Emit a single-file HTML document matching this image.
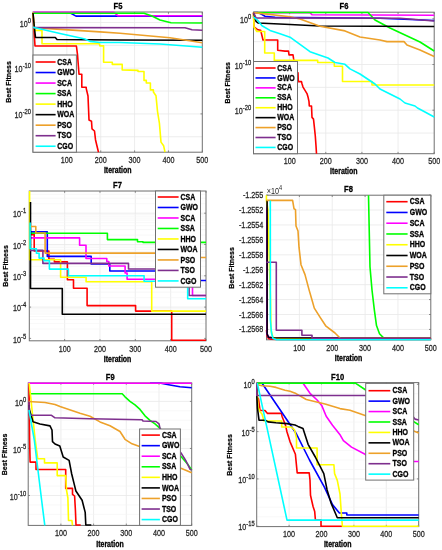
<!DOCTYPE html>
<html><head><meta charset="utf-8"><style>
html,body{margin:0;padding:0;background:#fff;}
svg{display:block;filter:blur(0.3px);}
text{font-family:"Liberation Sans", sans-serif;}
</style></head><body>
<svg width="442" height="550" viewBox="0 0 442 550">
<rect x="0" y="0" width="442" height="550" fill="#fff"/>
<line x1="66.86" y1="12.00" x2="66.86" y2="152.20" stroke="#e8e8e8" stroke-width="0.80"/>
<line x1="100.72" y1="12.00" x2="100.72" y2="152.20" stroke="#e8e8e8" stroke-width="0.80"/>
<line x1="134.58" y1="12.00" x2="134.58" y2="152.20" stroke="#e8e8e8" stroke-width="0.80"/>
<line x1="168.44" y1="12.00" x2="168.44" y2="152.20" stroke="#e8e8e8" stroke-width="0.80"/>
<line x1="33.00" y1="22.50" x2="202.30" y2="22.50" stroke="#e8e8e8" stroke-width="0.80"/>
<line x1="33.00" y1="45.35" x2="202.30" y2="45.35" stroke="#e8e8e8" stroke-width="0.80"/>
<line x1="33.00" y1="68.20" x2="202.30" y2="68.20" stroke="#e8e8e8" stroke-width="0.80"/>
<line x1="33.00" y1="91.05" x2="202.30" y2="91.05" stroke="#e8e8e8" stroke-width="0.80"/>
<line x1="33.00" y1="113.90" x2="202.30" y2="113.90" stroke="#e8e8e8" stroke-width="0.80"/>
<line x1="33.00" y1="136.75" x2="202.30" y2="136.75" stroke="#e8e8e8" stroke-width="0.80"/>
<rect x="33.00" y="12.00" width="169.30" height="140.20" fill="none" stroke="#707070" stroke-width="1"/>
<line x1="66.86" y1="152.20" x2="66.86" y2="150.40" stroke="#707070" stroke-width="0.80"/>
<line x1="66.86" y1="12.00" x2="66.86" y2="13.80" stroke="#707070" stroke-width="0.80"/>
<line x1="100.72" y1="152.20" x2="100.72" y2="150.40" stroke="#707070" stroke-width="0.80"/>
<line x1="100.72" y1="12.00" x2="100.72" y2="13.80" stroke="#707070" stroke-width="0.80"/>
<line x1="134.58" y1="152.20" x2="134.58" y2="150.40" stroke="#707070" stroke-width="0.80"/>
<line x1="134.58" y1="12.00" x2="134.58" y2="13.80" stroke="#707070" stroke-width="0.80"/>
<line x1="168.44" y1="152.20" x2="168.44" y2="150.40" stroke="#707070" stroke-width="0.80"/>
<line x1="168.44" y1="12.00" x2="168.44" y2="13.80" stroke="#707070" stroke-width="0.80"/>
<line x1="202.30" y1="152.20" x2="202.30" y2="150.40" stroke="#707070" stroke-width="0.80"/>
<line x1="202.30" y1="12.00" x2="202.30" y2="13.80" stroke="#707070" stroke-width="0.80"/>
<line x1="33.00" y1="22.50" x2="34.80" y2="22.50" stroke="#707070" stroke-width="0.80"/>
<line x1="202.30" y1="22.50" x2="200.50" y2="22.50" stroke="#707070" stroke-width="0.80"/>
<line x1="33.00" y1="68.20" x2="34.80" y2="68.20" stroke="#707070" stroke-width="0.80"/>
<line x1="202.30" y1="68.20" x2="200.50" y2="68.20" stroke="#707070" stroke-width="0.80"/>
<line x1="33.00" y1="113.90" x2="34.80" y2="113.90" stroke="#707070" stroke-width="0.80"/>
<line x1="202.30" y1="113.90" x2="200.50" y2="113.90" stroke="#707070" stroke-width="0.80"/>
<polyline points="33.0,12.6 34.0,30.0 35.0,46.0 37.0,46.0 76.4,46.0 77.5,54.6 79.0,74.3 81.8,74.3 81.8,87.3 86.2,87.3 86.2,88.4 88.0,96.0 89.0,120.0 91.5,121.2 92.0,128.8 94.5,131.0 95.5,139.7 96.5,144.0 98.5,152.2" fill="none" stroke="#ff0000" stroke-width="1.60" stroke-linejoin="round" stroke-linecap="butt"/>
<polyline points="33.0,13.0 70.4,13.0 76.0,16.1 202.3,16.1" fill="none" stroke="#0000ff" stroke-width="1.60" stroke-linejoin="round" stroke-linecap="butt"/>
<polyline points="33.0,12.4 114.0,12.4 118.0,15.8 202.3,15.8" fill="none" stroke="#ff00ff" stroke-width="1.60" stroke-linejoin="round" stroke-linecap="butt"/>
<polyline points="33.0,13.3 144.0,13.3 152.0,16.0 160.0,20.0 171.0,22.8 202.3,23.0" fill="none" stroke="#00ff00" stroke-width="1.60" stroke-linejoin="round" stroke-linecap="butt"/>
<polyline points="33.0,12.6 34.5,30.4 42.0,30.4 42.0,43.7 99.3,43.7 100.0,45.9 103.6,45.9 103.6,62.3 112.3,62.3 112.3,64.4 122.2,64.4 122.2,69.9 138.0,70.4 138.0,71.5 144.0,71.5 144.0,80.4 146.3,80.4 146.3,83.0 150.4,83.0 150.4,89.9 153.4,89.9 153.4,92.0 156.0,95.8 157.5,111.3 159.4,123.1 161.0,142.1 163.6,145.7 165.0,152.2" fill="none" stroke="#ffff00" stroke-width="1.60" stroke-linejoin="round" stroke-linecap="butt"/>
<polyline points="33.0,13.0 34.5,28.8 35.5,37.5 55.3,37.5 57.0,39.5 120.0,40.0 202.3,40.2" fill="none" stroke="#000000" stroke-width="1.60" stroke-linejoin="round" stroke-linecap="butt"/>
<polyline points="33.0,27.6 100.0,31.9 120.0,33.3 170.0,37.7 202.3,42.7" fill="none" stroke="#eda12a" stroke-width="1.60" stroke-linejoin="round" stroke-linecap="butt"/>
<polyline points="33.0,27.6 185.0,27.8 192.0,29.8 202.3,30.3" fill="none" stroke="#7e2f8e" stroke-width="1.60" stroke-linejoin="round" stroke-linecap="butt"/>
<polyline points="33.0,27.2 60.0,33.5 85.0,39.0 90.0,41.4 100.0,42.5 120.0,42.5 160.0,44.0 202.3,47.2" fill="none" stroke="#00ffff" stroke-width="1.60" stroke-linejoin="round" stroke-linecap="butt"/>
<text x="0" y="0" font-size="7.20" text-anchor="middle" font-weight="normal" fill="#262626" transform="translate(66.86,162.60) scale(1,1.200)" stroke="#262626" stroke-width="0.22">100</text>
<text x="0" y="0" font-size="7.20" text-anchor="middle" font-weight="normal" fill="#262626" transform="translate(100.72,162.60) scale(1,1.200)" stroke="#262626" stroke-width="0.22">200</text>
<text x="0" y="0" font-size="7.20" text-anchor="middle" font-weight="normal" fill="#262626" transform="translate(134.58,162.60) scale(1,1.200)" stroke="#262626" stroke-width="0.22">300</text>
<text x="0" y="0" font-size="7.20" text-anchor="middle" font-weight="normal" fill="#262626" transform="translate(168.44,162.60) scale(1,1.200)" stroke="#262626" stroke-width="0.22">400</text>
<text x="0" y="0" font-size="7.20" text-anchor="middle" font-weight="normal" fill="#262626" transform="translate(202.30,162.60) scale(1,1.200)" stroke="#262626" stroke-width="0.22">500</text>
<text x="0" y="0" font-size="7.20" text-anchor="end" fill="#262626" stroke="#262626" stroke-width="0.22" transform="translate(31.00,26.60) scale(1,1.200)">10<tspan dy="-3.30" font-size="5.80">0</tspan></text>
<text x="0" y="0" font-size="7.20" text-anchor="end" fill="#262626" stroke="#262626" stroke-width="0.22" transform="translate(31.00,72.30) scale(1,1.200)">10<tspan dy="-3.30" font-size="5.80">-10</tspan></text>
<text x="0" y="0" font-size="7.20" text-anchor="end" fill="#262626" stroke="#262626" stroke-width="0.22" transform="translate(31.00,118.00) scale(1,1.200)">10<tspan dy="-3.30" font-size="5.80">-20</tspan></text>
<text x="0" y="0" font-size="7.60" text-anchor="middle" font-weight="bold" fill="#000" transform="translate(118.00,9.20) scale(1,1.200)" stroke="#000" stroke-width="0.25">F5</text>
<text x="0" y="0" font-size="7.00" text-anchor="middle" font-weight="bold" fill="#000" transform="translate(117.70,173.30) scale(1,1.200)" stroke="#000" stroke-width="0.25">Iteration</text>
<text x="0" y="0" font-size="7.00" font-weight="bold" text-anchor="middle" fill="#000" stroke="#000" stroke-width="0.2" transform="translate(10.80,82.00) rotate(-90) scale(1,1.150)">Best Fitness</text>
<rect x="33.00" y="55.00" width="43.40" height="97.20" fill="#fff" stroke="#707070" stroke-width="1"/>
<line x1="35.60" y1="62.00" x2="55.60" y2="62.00" stroke="#ff0000" stroke-width="1.60"/>
<text x="0" y="0" font-size="7.00" text-anchor="start" font-weight="bold" fill="#000" transform="translate(57.20,64.60) scale(1,1.200)" stroke="#000" stroke-width="0.25">CSA</text>
<line x1="35.60" y1="72.53" x2="55.60" y2="72.53" stroke="#0000ff" stroke-width="1.60"/>
<text x="0" y="0" font-size="7.00" text-anchor="start" font-weight="bold" fill="#000" transform="translate(57.20,75.13) scale(1,1.200)" stroke="#000" stroke-width="0.25">GWO</text>
<line x1="35.60" y1="83.06" x2="55.60" y2="83.06" stroke="#ff00ff" stroke-width="1.60"/>
<text x="0" y="0" font-size="7.00" text-anchor="start" font-weight="bold" fill="#000" transform="translate(57.20,85.66) scale(1,1.200)" stroke="#000" stroke-width="0.25">SCA</text>
<line x1="35.60" y1="93.59" x2="55.60" y2="93.59" stroke="#00ff00" stroke-width="1.60"/>
<text x="0" y="0" font-size="7.00" text-anchor="start" font-weight="bold" fill="#000" transform="translate(57.20,96.19) scale(1,1.200)" stroke="#000" stroke-width="0.25">SSA</text>
<line x1="35.60" y1="104.12" x2="55.60" y2="104.12" stroke="#ffff00" stroke-width="1.60"/>
<text x="0" y="0" font-size="7.00" text-anchor="start" font-weight="bold" fill="#000" transform="translate(57.20,106.72) scale(1,1.200)" stroke="#000" stroke-width="0.25">HHO</text>
<line x1="35.60" y1="114.65" x2="55.60" y2="114.65" stroke="#000000" stroke-width="1.60"/>
<text x="0" y="0" font-size="7.00" text-anchor="start" font-weight="bold" fill="#000" transform="translate(57.20,117.25) scale(1,1.200)" stroke="#000" stroke-width="0.25">WOA</text>
<line x1="35.60" y1="125.18" x2="55.60" y2="125.18" stroke="#eda12a" stroke-width="1.60"/>
<text x="0" y="0" font-size="7.00" text-anchor="start" font-weight="bold" fill="#000" transform="translate(57.20,127.78) scale(1,1.200)" stroke="#000" stroke-width="0.25">PSO</text>
<line x1="35.60" y1="135.71" x2="55.60" y2="135.71" stroke="#7e2f8e" stroke-width="1.60"/>
<text x="0" y="0" font-size="7.00" text-anchor="start" font-weight="bold" fill="#000" transform="translate(57.20,138.31) scale(1,1.200)" stroke="#000" stroke-width="0.25">TSO</text>
<line x1="35.60" y1="146.24" x2="55.60" y2="146.24" stroke="#00ffff" stroke-width="1.60"/>
<text x="0" y="0" font-size="7.00" text-anchor="start" font-weight="bold" fill="#000" transform="translate(57.20,148.84) scale(1,1.200)" stroke="#000" stroke-width="0.25">CGO</text>
<line x1="289.64" y1="12.20" x2="289.64" y2="153.70" stroke="#e8e8e8" stroke-width="0.80"/>
<line x1="325.78" y1="12.20" x2="325.78" y2="153.70" stroke="#e8e8e8" stroke-width="0.80"/>
<line x1="361.92" y1="12.20" x2="361.92" y2="153.70" stroke="#e8e8e8" stroke-width="0.80"/>
<line x1="398.06" y1="12.20" x2="398.06" y2="153.70" stroke="#e8e8e8" stroke-width="0.80"/>
<line x1="253.50" y1="18.80" x2="434.20" y2="18.80" stroke="#e8e8e8" stroke-width="0.80"/>
<line x1="253.50" y1="41.65" x2="434.20" y2="41.65" stroke="#e8e8e8" stroke-width="0.80"/>
<line x1="253.50" y1="64.50" x2="434.20" y2="64.50" stroke="#e8e8e8" stroke-width="0.80"/>
<line x1="253.50" y1="87.35" x2="434.20" y2="87.35" stroke="#e8e8e8" stroke-width="0.80"/>
<line x1="253.50" y1="110.20" x2="434.20" y2="110.20" stroke="#e8e8e8" stroke-width="0.80"/>
<line x1="253.50" y1="133.05" x2="434.20" y2="133.05" stroke="#e8e8e8" stroke-width="0.80"/>
<rect x="253.50" y="12.20" width="180.70" height="141.50" fill="none" stroke="#707070" stroke-width="1"/>
<line x1="289.64" y1="153.70" x2="289.64" y2="151.90" stroke="#707070" stroke-width="0.80"/>
<line x1="289.64" y1="12.20" x2="289.64" y2="14.00" stroke="#707070" stroke-width="0.80"/>
<line x1="325.78" y1="153.70" x2="325.78" y2="151.90" stroke="#707070" stroke-width="0.80"/>
<line x1="325.78" y1="12.20" x2="325.78" y2="14.00" stroke="#707070" stroke-width="0.80"/>
<line x1="361.92" y1="153.70" x2="361.92" y2="151.90" stroke="#707070" stroke-width="0.80"/>
<line x1="361.92" y1="12.20" x2="361.92" y2="14.00" stroke="#707070" stroke-width="0.80"/>
<line x1="398.06" y1="153.70" x2="398.06" y2="151.90" stroke="#707070" stroke-width="0.80"/>
<line x1="398.06" y1="12.20" x2="398.06" y2="14.00" stroke="#707070" stroke-width="0.80"/>
<line x1="434.20" y1="153.70" x2="434.20" y2="151.90" stroke="#707070" stroke-width="0.80"/>
<line x1="434.20" y1="12.20" x2="434.20" y2="14.00" stroke="#707070" stroke-width="0.80"/>
<line x1="253.50" y1="18.80" x2="255.30" y2="18.80" stroke="#707070" stroke-width="0.80"/>
<line x1="434.20" y1="18.80" x2="432.40" y2="18.80" stroke="#707070" stroke-width="0.80"/>
<line x1="253.50" y1="64.50" x2="255.30" y2="64.50" stroke="#707070" stroke-width="0.80"/>
<line x1="434.20" y1="64.50" x2="432.40" y2="64.50" stroke="#707070" stroke-width="0.80"/>
<line x1="253.50" y1="110.20" x2="255.30" y2="110.20" stroke="#707070" stroke-width="0.80"/>
<line x1="434.20" y1="110.20" x2="432.40" y2="110.20" stroke="#707070" stroke-width="0.80"/>
<polyline points="253.5,12.6 254.0,27.0 257.9,29.8 260.7,30.4 263.0,40.0 277.7,40.0 277.7,50.2 285.0,51.1 288.5,51.1 289.0,54.9 293.0,54.9 293.5,58.2 294.0,60.9 297.0,72.0 298.0,72.9 298.3,81.6 301.5,81.6 302.0,83.8 303.0,87.1 305.0,90.3 307.0,93.6 308.0,96.9 309.0,101.6 309.3,106.0 311.5,106.0 312.0,117.4 313.5,119.1 314.5,128.4 315.3,136.0 316.0,145.8 316.5,153.7" fill="none" stroke="#ff0000" stroke-width="1.60" stroke-linejoin="round" stroke-linecap="butt"/>
<polyline points="253.5,12.6 258.0,12.6 262.0,14.5 265.0,16.2 275.0,17.4 380.0,18.2 434.2,20.5" fill="none" stroke="#0000ff" stroke-width="1.60" stroke-linejoin="round" stroke-linecap="butt"/>
<polyline points="253.5,12.6 310.0,12.6 312.0,14.8 434.2,15.2" fill="none" stroke="#ff00ff" stroke-width="1.60" stroke-linejoin="round" stroke-linecap="butt"/>
<polyline points="253.5,12.5 368.0,12.5 375.0,20.0 390.0,28.0 405.0,35.0 420.0,42.0 434.2,51.0" fill="none" stroke="#00ff00" stroke-width="1.60" stroke-linejoin="round" stroke-linecap="butt"/>
<polyline points="253.5,12.6 254.0,27.0 256.8,31.5 264.7,31.5 264.7,53.0 274.3,53.0 274.3,60.4 317.7,60.4 317.7,62.5 334.3,62.5 334.3,66.2 342.5,66.2 342.5,81.5 372.0,81.5 372.0,85.0 434.2,85.0" fill="none" stroke="#ffff00" stroke-width="1.60" stroke-linejoin="round" stroke-linecap="butt"/>
<polyline points="253.5,12.6 256.0,21.3 258.0,23.0 290.0,24.5 320.0,26.0 434.2,26.5" fill="none" stroke="#000000" stroke-width="1.60" stroke-linejoin="round" stroke-linecap="butt"/>
<polyline points="253.5,12.6 290.0,16.8 300.0,19.0 320.0,26.3 345.0,30.9 360.0,37.0 380.0,40.0 387.0,41.6 404.0,41.6 407.0,45.0 420.0,50.0 434.2,56.4" fill="none" stroke="#eda12a" stroke-width="1.60" stroke-linejoin="round" stroke-linecap="butt"/>
<polyline points="253.5,12.6 256.0,17.9 400.0,18.2 434.2,21.0" fill="none" stroke="#7e2f8e" stroke-width="1.60" stroke-linejoin="round" stroke-linecap="butt"/>
<polyline points="253.5,17.0 258.0,20.7 262.0,25.8 270.0,30.4 280.0,33.8 290.0,37.2 300.0,44.4 310.0,51.7 320.0,55.3 328.0,58.0 335.0,62.5 345.0,64.3 350.0,68.9 360.0,74.0 375.0,84.0 380.0,89.0 390.0,94.0 400.0,99.0 405.0,103.0 415.0,106.0 417.5,108.0 425.0,112.0 434.2,117.0" fill="none" stroke="#00ffff" stroke-width="1.60" stroke-linejoin="round" stroke-linecap="butt"/>
<text x="0" y="0" font-size="7.20" text-anchor="middle" font-weight="normal" fill="#262626" transform="translate(289.64,163.80) scale(1,1.200)" stroke="#262626" stroke-width="0.22">100</text>
<text x="0" y="0" font-size="7.20" text-anchor="middle" font-weight="normal" fill="#262626" transform="translate(325.78,163.80) scale(1,1.200)" stroke="#262626" stroke-width="0.22">200</text>
<text x="0" y="0" font-size="7.20" text-anchor="middle" font-weight="normal" fill="#262626" transform="translate(361.92,163.80) scale(1,1.200)" stroke="#262626" stroke-width="0.22">300</text>
<text x="0" y="0" font-size="7.20" text-anchor="middle" font-weight="normal" fill="#262626" transform="translate(398.06,163.80) scale(1,1.200)" stroke="#262626" stroke-width="0.22">400</text>
<text x="0" y="0" font-size="7.20" text-anchor="middle" font-weight="normal" fill="#262626" transform="translate(434.20,163.80) scale(1,1.200)" stroke="#262626" stroke-width="0.22">500</text>
<text x="0" y="0" font-size="7.20" text-anchor="end" fill="#262626" stroke="#262626" stroke-width="0.22" transform="translate(251.20,22.90) scale(1,1.200)">10<tspan dy="-3.30" font-size="5.80">0</tspan></text>
<text x="0" y="0" font-size="7.20" text-anchor="end" fill="#262626" stroke="#262626" stroke-width="0.22" transform="translate(251.20,68.60) scale(1,1.200)">10<tspan dy="-3.30" font-size="5.80">-10</tspan></text>
<text x="0" y="0" font-size="7.20" text-anchor="end" fill="#262626" stroke="#262626" stroke-width="0.22" transform="translate(251.20,114.30) scale(1,1.200)">10<tspan dy="-3.30" font-size="5.80">-20</tspan></text>
<text x="0" y="0" font-size="7.60" text-anchor="middle" font-weight="bold" fill="#000" transform="translate(344.00,9.00) scale(1,1.200)" stroke="#000" stroke-width="0.25">F6</text>
<text x="0" y="0" font-size="7.00" text-anchor="middle" font-weight="bold" fill="#000" transform="translate(343.80,173.50) scale(1,1.200)" stroke="#000" stroke-width="0.25">Iteration</text>
<text x="0" y="0" font-size="7.00" font-weight="bold" text-anchor="middle" fill="#000" stroke="#000" stroke-width="0.2" transform="translate(230.40,82.80) rotate(-90) scale(1,1.150)">Best Fitness</text>
<rect x="253.50" y="61.50" width="44.00" height="92.20" fill="#fff" stroke="#707070" stroke-width="1"/>
<line x1="255.50" y1="68.00" x2="275.60" y2="68.00" stroke="#ff0000" stroke-width="1.60"/>
<text x="0" y="0" font-size="7.00" text-anchor="start" font-weight="bold" fill="#000" transform="translate(277.20,70.60) scale(1,1.200)" stroke="#000" stroke-width="0.25">CSA</text>
<line x1="255.50" y1="77.93" x2="275.60" y2="77.93" stroke="#0000ff" stroke-width="1.60"/>
<text x="0" y="0" font-size="7.00" text-anchor="start" font-weight="bold" fill="#000" transform="translate(277.20,80.53) scale(1,1.200)" stroke="#000" stroke-width="0.25">GWO</text>
<line x1="255.50" y1="87.86" x2="275.60" y2="87.86" stroke="#ff00ff" stroke-width="1.60"/>
<text x="0" y="0" font-size="7.00" text-anchor="start" font-weight="bold" fill="#000" transform="translate(277.20,90.46) scale(1,1.200)" stroke="#000" stroke-width="0.25">SCA</text>
<line x1="255.50" y1="97.79" x2="275.60" y2="97.79" stroke="#00ff00" stroke-width="1.60"/>
<text x="0" y="0" font-size="7.00" text-anchor="start" font-weight="bold" fill="#000" transform="translate(277.20,100.39) scale(1,1.200)" stroke="#000" stroke-width="0.25">SSA</text>
<line x1="255.50" y1="107.72" x2="275.60" y2="107.72" stroke="#ffff00" stroke-width="1.60"/>
<text x="0" y="0" font-size="7.00" text-anchor="start" font-weight="bold" fill="#000" transform="translate(277.20,110.32) scale(1,1.200)" stroke="#000" stroke-width="0.25">HHO</text>
<line x1="255.50" y1="117.65" x2="275.60" y2="117.65" stroke="#000000" stroke-width="1.60"/>
<text x="0" y="0" font-size="7.00" text-anchor="start" font-weight="bold" fill="#000" transform="translate(277.20,120.25) scale(1,1.200)" stroke="#000" stroke-width="0.25">WOA</text>
<line x1="255.50" y1="127.58" x2="275.60" y2="127.58" stroke="#eda12a" stroke-width="1.60"/>
<text x="0" y="0" font-size="7.00" text-anchor="start" font-weight="bold" fill="#000" transform="translate(277.20,130.18) scale(1,1.200)" stroke="#000" stroke-width="0.25">PSO</text>
<line x1="255.50" y1="137.51" x2="275.60" y2="137.51" stroke="#7e2f8e" stroke-width="1.60"/>
<text x="0" y="0" font-size="7.00" text-anchor="start" font-weight="bold" fill="#000" transform="translate(277.20,140.11) scale(1,1.200)" stroke="#000" stroke-width="0.25">TSO</text>
<line x1="255.50" y1="147.44" x2="275.60" y2="147.44" stroke="#00ffff" stroke-width="1.60"/>
<text x="0" y="0" font-size="7.00" text-anchor="start" font-weight="bold" fill="#000" transform="translate(277.20,150.04) scale(1,1.200)" stroke="#000" stroke-width="0.25">CGO</text>
<line x1="64.64" y1="191.00" x2="64.64" y2="340.80" stroke="#e8e8e8" stroke-width="0.80"/>
<line x1="99.98" y1="191.00" x2="99.98" y2="340.80" stroke="#e8e8e8" stroke-width="0.80"/>
<line x1="135.32" y1="191.00" x2="135.32" y2="340.80" stroke="#e8e8e8" stroke-width="0.80"/>
<line x1="170.66" y1="191.00" x2="170.66" y2="340.80" stroke="#e8e8e8" stroke-width="0.80"/>
<line x1="29.30" y1="213.20" x2="206.00" y2="213.20" stroke="#e8e8e8" stroke-width="0.80"/>
<line x1="29.30" y1="244.50" x2="206.00" y2="244.50" stroke="#e8e8e8" stroke-width="0.80"/>
<line x1="29.30" y1="275.80" x2="206.00" y2="275.80" stroke="#e8e8e8" stroke-width="0.80"/>
<line x1="29.30" y1="307.10" x2="206.00" y2="307.10" stroke="#e8e8e8" stroke-width="0.80"/>
<line x1="29.30" y1="328.98" x2="206.00" y2="328.98" stroke="#f3f3f3" stroke-width="0.60"/>
<line x1="29.30" y1="323.47" x2="206.00" y2="323.47" stroke="#f3f3f3" stroke-width="0.60"/>
<line x1="29.30" y1="319.56" x2="206.00" y2="319.56" stroke="#f3f3f3" stroke-width="0.60"/>
<line x1="29.30" y1="316.52" x2="206.00" y2="316.52" stroke="#f3f3f3" stroke-width="0.60"/>
<line x1="29.30" y1="314.04" x2="206.00" y2="314.04" stroke="#f3f3f3" stroke-width="0.60"/>
<line x1="29.30" y1="311.95" x2="206.00" y2="311.95" stroke="#f3f3f3" stroke-width="0.60"/>
<line x1="29.30" y1="310.13" x2="206.00" y2="310.13" stroke="#f3f3f3" stroke-width="0.60"/>
<line x1="29.30" y1="308.53" x2="206.00" y2="308.53" stroke="#f3f3f3" stroke-width="0.60"/>
<line x1="29.30" y1="297.68" x2="206.00" y2="297.68" stroke="#f3f3f3" stroke-width="0.60"/>
<line x1="29.30" y1="292.17" x2="206.00" y2="292.17" stroke="#f3f3f3" stroke-width="0.60"/>
<line x1="29.30" y1="288.26" x2="206.00" y2="288.26" stroke="#f3f3f3" stroke-width="0.60"/>
<line x1="29.30" y1="285.22" x2="206.00" y2="285.22" stroke="#f3f3f3" stroke-width="0.60"/>
<line x1="29.30" y1="282.74" x2="206.00" y2="282.74" stroke="#f3f3f3" stroke-width="0.60"/>
<line x1="29.30" y1="280.65" x2="206.00" y2="280.65" stroke="#f3f3f3" stroke-width="0.60"/>
<line x1="29.30" y1="278.83" x2="206.00" y2="278.83" stroke="#f3f3f3" stroke-width="0.60"/>
<line x1="29.30" y1="277.23" x2="206.00" y2="277.23" stroke="#f3f3f3" stroke-width="0.60"/>
<line x1="29.30" y1="266.38" x2="206.00" y2="266.38" stroke="#f3f3f3" stroke-width="0.60"/>
<line x1="29.30" y1="260.87" x2="206.00" y2="260.87" stroke="#f3f3f3" stroke-width="0.60"/>
<line x1="29.30" y1="256.96" x2="206.00" y2="256.96" stroke="#f3f3f3" stroke-width="0.60"/>
<line x1="29.30" y1="253.92" x2="206.00" y2="253.92" stroke="#f3f3f3" stroke-width="0.60"/>
<line x1="29.30" y1="251.44" x2="206.00" y2="251.44" stroke="#f3f3f3" stroke-width="0.60"/>
<line x1="29.30" y1="249.35" x2="206.00" y2="249.35" stroke="#f3f3f3" stroke-width="0.60"/>
<line x1="29.30" y1="247.53" x2="206.00" y2="247.53" stroke="#f3f3f3" stroke-width="0.60"/>
<line x1="29.30" y1="245.93" x2="206.00" y2="245.93" stroke="#f3f3f3" stroke-width="0.60"/>
<line x1="29.30" y1="235.08" x2="206.00" y2="235.08" stroke="#f3f3f3" stroke-width="0.60"/>
<line x1="29.30" y1="229.57" x2="206.00" y2="229.57" stroke="#f3f3f3" stroke-width="0.60"/>
<line x1="29.30" y1="225.66" x2="206.00" y2="225.66" stroke="#f3f3f3" stroke-width="0.60"/>
<line x1="29.30" y1="222.62" x2="206.00" y2="222.62" stroke="#f3f3f3" stroke-width="0.60"/>
<line x1="29.30" y1="220.14" x2="206.00" y2="220.14" stroke="#f3f3f3" stroke-width="0.60"/>
<line x1="29.30" y1="218.05" x2="206.00" y2="218.05" stroke="#f3f3f3" stroke-width="0.60"/>
<line x1="29.30" y1="216.23" x2="206.00" y2="216.23" stroke="#f3f3f3" stroke-width="0.60"/>
<line x1="29.30" y1="214.63" x2="206.00" y2="214.63" stroke="#f3f3f3" stroke-width="0.60"/>
<line x1="29.30" y1="203.78" x2="206.00" y2="203.78" stroke="#f3f3f3" stroke-width="0.60"/>
<line x1="29.30" y1="198.27" x2="206.00" y2="198.27" stroke="#f3f3f3" stroke-width="0.60"/>
<line x1="29.30" y1="194.36" x2="206.00" y2="194.36" stroke="#f3f3f3" stroke-width="0.60"/>
<line x1="29.30" y1="191.32" x2="206.00" y2="191.32" stroke="#f3f3f3" stroke-width="0.60"/>
<rect x="29.30" y="191.00" width="176.70" height="149.80" fill="none" stroke="#707070" stroke-width="1"/>
<line x1="64.64" y1="340.80" x2="64.64" y2="339.00" stroke="#707070" stroke-width="0.80"/>
<line x1="64.64" y1="191.00" x2="64.64" y2="192.80" stroke="#707070" stroke-width="0.80"/>
<line x1="99.98" y1="340.80" x2="99.98" y2="339.00" stroke="#707070" stroke-width="0.80"/>
<line x1="99.98" y1="191.00" x2="99.98" y2="192.80" stroke="#707070" stroke-width="0.80"/>
<line x1="135.32" y1="340.80" x2="135.32" y2="339.00" stroke="#707070" stroke-width="0.80"/>
<line x1="135.32" y1="191.00" x2="135.32" y2="192.80" stroke="#707070" stroke-width="0.80"/>
<line x1="170.66" y1="340.80" x2="170.66" y2="339.00" stroke="#707070" stroke-width="0.80"/>
<line x1="170.66" y1="191.00" x2="170.66" y2="192.80" stroke="#707070" stroke-width="0.80"/>
<line x1="206.00" y1="340.80" x2="206.00" y2="339.00" stroke="#707070" stroke-width="0.80"/>
<line x1="206.00" y1="191.00" x2="206.00" y2="192.80" stroke="#707070" stroke-width="0.80"/>
<line x1="29.30" y1="213.20" x2="31.10" y2="213.20" stroke="#707070" stroke-width="0.80"/>
<line x1="206.00" y1="213.20" x2="204.20" y2="213.20" stroke="#707070" stroke-width="0.80"/>
<line x1="29.30" y1="244.50" x2="31.10" y2="244.50" stroke="#707070" stroke-width="0.80"/>
<line x1="206.00" y1="244.50" x2="204.20" y2="244.50" stroke="#707070" stroke-width="0.80"/>
<line x1="29.30" y1="275.80" x2="31.10" y2="275.80" stroke="#707070" stroke-width="0.80"/>
<line x1="206.00" y1="275.80" x2="204.20" y2="275.80" stroke="#707070" stroke-width="0.80"/>
<line x1="29.30" y1="307.10" x2="31.10" y2="307.10" stroke="#707070" stroke-width="0.80"/>
<line x1="206.00" y1="307.10" x2="204.20" y2="307.10" stroke="#707070" stroke-width="0.80"/>
<line x1="29.30" y1="338.40" x2="31.10" y2="338.40" stroke="#707070" stroke-width="0.80"/>
<line x1="206.00" y1="338.40" x2="204.20" y2="338.40" stroke="#707070" stroke-width="0.80"/>
<polyline points="31.0,234.6 34.2,234.6 34.2,251.0 48.9,251.0 48.9,259.2 54.4,259.2 54.4,261.9 67.4,261.9 67.4,279.7 73.5,279.7 73.5,288.3 87.1,288.3 87.1,305.6 135.6,305.6 135.6,311.1 171.7,311.1 171.7,340.2 206.0,340.2" fill="none" stroke="#ff0000" stroke-width="1.60" stroke-linejoin="round" stroke-linecap="butt"/>
<polyline points="30.5,231.9 47.3,231.9 47.3,256.4 91.2,256.4 91.2,264.0 109.8,264.0 109.8,271.0 170.0,271.0 176.0,280.5 206.0,280.5" fill="none" stroke="#0000ff" stroke-width="1.60" stroke-linejoin="round" stroke-linecap="butt"/>
<polyline points="31.0,237.9 79.6,237.9 79.6,245.2 86.0,245.2 86.0,258.5 106.8,258.5 106.8,261.5 108.8,261.5 108.8,266.0 125.1,266.0 125.1,273.0 127.1,273.0 127.1,279.2 192.5,279.2 192.5,295.5 206.0,295.5" fill="none" stroke="#ff00ff" stroke-width="1.60" stroke-linejoin="round" stroke-linecap="butt"/>
<polyline points="31.0,233.2 107.4,233.2 107.4,239.6 137.5,239.6 137.5,241.7 143.0,241.7 143.0,242.4 206.0,242.4" fill="none" stroke="#00ff00" stroke-width="1.60" stroke-linejoin="round" stroke-linecap="butt"/>
<polyline points="29.6,191.0 29.6,259.7 60.6,259.7 60.6,277.3 86.1,277.3 86.1,281.7 151.7,281.7 151.7,311.1 206.0,311.1" fill="none" stroke="#ffff00" stroke-width="1.60" stroke-linejoin="round" stroke-linecap="butt"/>
<polyline points="30.5,202.0 30.5,288.5 62.3,288.5 62.3,314.2 206.0,314.2" fill="none" stroke="#000000" stroke-width="1.60" stroke-linejoin="round" stroke-linecap="butt"/>
<polyline points="30.0,226.5 35.8,226.5 35.8,233.0 45.1,233.0 45.1,253.1 172.0,253.1 176.0,257.5 206.0,257.5" fill="none" stroke="#eda12a" stroke-width="1.60" stroke-linejoin="round" stroke-linecap="butt"/>
<polyline points="30.0,250.4 42.9,250.4 42.9,263.4 128.5,263.4 128.5,269.0 189.1,269.0 189.1,295.5 206.0,295.5" fill="none" stroke="#7e2f8e" stroke-width="1.60" stroke-linejoin="round" stroke-linecap="butt"/>
<polyline points="30.1,222.6 30.1,248.8 36.4,248.8 36.4,253.2 39.1,253.2 39.1,258.1 44.0,258.1 44.0,260.8 49.4,260.8 49.4,269.1 68.4,269.1 68.4,275.8 144.1,275.8 144.1,281.2 187.7,281.2 187.7,298.7 206.0,298.7" fill="none" stroke="#00ffff" stroke-width="1.60" stroke-linejoin="round" stroke-linecap="butt"/>
<text x="0" y="0" font-size="7.20" text-anchor="middle" font-weight="normal" fill="#262626" transform="translate(64.64,351.50) scale(1,1.200)" stroke="#262626" stroke-width="0.22">100</text>
<text x="0" y="0" font-size="7.20" text-anchor="middle" font-weight="normal" fill="#262626" transform="translate(99.98,351.50) scale(1,1.200)" stroke="#262626" stroke-width="0.22">200</text>
<text x="0" y="0" font-size="7.20" text-anchor="middle" font-weight="normal" fill="#262626" transform="translate(135.32,351.50) scale(1,1.200)" stroke="#262626" stroke-width="0.22">300</text>
<text x="0" y="0" font-size="7.20" text-anchor="middle" font-weight="normal" fill="#262626" transform="translate(170.66,351.50) scale(1,1.200)" stroke="#262626" stroke-width="0.22">400</text>
<text x="0" y="0" font-size="7.20" text-anchor="middle" font-weight="normal" fill="#262626" transform="translate(206.00,351.50) scale(1,1.200)" stroke="#262626" stroke-width="0.22">500</text>
<text x="0" y="0" font-size="7.20" text-anchor="end" fill="#262626" stroke="#262626" stroke-width="0.22" transform="translate(26.20,217.30) scale(1,1.200)">10<tspan dy="-3.30" font-size="5.80">-1</tspan></text>
<text x="0" y="0" font-size="7.20" text-anchor="end" fill="#262626" stroke="#262626" stroke-width="0.22" transform="translate(26.20,248.60) scale(1,1.200)">10<tspan dy="-3.30" font-size="5.80">-2</tspan></text>
<text x="0" y="0" font-size="7.20" text-anchor="end" fill="#262626" stroke="#262626" stroke-width="0.22" transform="translate(26.20,279.90) scale(1,1.200)">10<tspan dy="-3.30" font-size="5.80">-3</tspan></text>
<text x="0" y="0" font-size="7.20" text-anchor="end" fill="#262626" stroke="#262626" stroke-width="0.22" transform="translate(26.20,311.20) scale(1,1.200)">10<tspan dy="-3.30" font-size="5.80">-4</tspan></text>
<text x="0" y="0" font-size="7.20" text-anchor="end" fill="#262626" stroke="#262626" stroke-width="0.22" transform="translate(26.20,342.50) scale(1,1.200)">10<tspan dy="-3.30" font-size="5.80">-5</tspan></text>
<text x="0" y="0" font-size="7.60" text-anchor="middle" font-weight="bold" fill="#000" transform="translate(117.50,187.60) scale(1,1.200)" stroke="#000" stroke-width="0.25">F7</text>
<text x="0" y="0" font-size="7.00" text-anchor="middle" font-weight="bold" fill="#000" transform="translate(117.60,362.00) scale(1,1.200)" stroke="#000" stroke-width="0.25">Iteration</text>
<text x="0" y="0" font-size="7.00" font-weight="bold" text-anchor="middle" fill="#000" stroke="#000" stroke-width="0.2" transform="translate(8.00,266.00) rotate(-90) scale(1,1.150)">Best Fitness</text>
<rect x="155.50" y="191.00" width="45.00" height="96.20" fill="#fff" stroke="#707070" stroke-width="1"/>
<line x1="157.70" y1="197.00" x2="178.60" y2="197.00" stroke="#ff0000" stroke-width="1.60"/>
<text x="0" y="0" font-size="7.00" text-anchor="start" font-weight="bold" fill="#000" transform="translate(180.50,199.60) scale(1,1.200)" stroke="#000" stroke-width="0.25">CSA</text>
<line x1="157.70" y1="207.49" x2="178.60" y2="207.49" stroke="#0000ff" stroke-width="1.60"/>
<text x="0" y="0" font-size="7.00" text-anchor="start" font-weight="bold" fill="#000" transform="translate(180.50,210.09) scale(1,1.200)" stroke="#000" stroke-width="0.25">GWO</text>
<line x1="157.70" y1="217.98" x2="178.60" y2="217.98" stroke="#ff00ff" stroke-width="1.60"/>
<text x="0" y="0" font-size="7.00" text-anchor="start" font-weight="bold" fill="#000" transform="translate(180.50,220.58) scale(1,1.200)" stroke="#000" stroke-width="0.25">SCA</text>
<line x1="157.70" y1="228.47" x2="178.60" y2="228.47" stroke="#00ff00" stroke-width="1.60"/>
<text x="0" y="0" font-size="7.00" text-anchor="start" font-weight="bold" fill="#000" transform="translate(180.50,231.07) scale(1,1.200)" stroke="#000" stroke-width="0.25">SSA</text>
<line x1="157.70" y1="238.96" x2="178.60" y2="238.96" stroke="#ffff00" stroke-width="1.60"/>
<text x="0" y="0" font-size="7.00" text-anchor="start" font-weight="bold" fill="#000" transform="translate(180.50,241.56) scale(1,1.200)" stroke="#000" stroke-width="0.25">HHO</text>
<line x1="157.70" y1="249.45" x2="178.60" y2="249.45" stroke="#000000" stroke-width="1.60"/>
<text x="0" y="0" font-size="7.00" text-anchor="start" font-weight="bold" fill="#000" transform="translate(180.50,252.05) scale(1,1.200)" stroke="#000" stroke-width="0.25">WOA</text>
<line x1="157.70" y1="259.94" x2="178.60" y2="259.94" stroke="#eda12a" stroke-width="1.60"/>
<text x="0" y="0" font-size="7.00" text-anchor="start" font-weight="bold" fill="#000" transform="translate(180.50,262.54) scale(1,1.200)" stroke="#000" stroke-width="0.25">PSO</text>
<line x1="157.70" y1="270.43" x2="178.60" y2="270.43" stroke="#7e2f8e" stroke-width="1.60"/>
<text x="0" y="0" font-size="7.00" text-anchor="start" font-weight="bold" fill="#000" transform="translate(180.50,273.03) scale(1,1.200)" stroke="#000" stroke-width="0.25">TSO</text>
<line x1="157.70" y1="280.92" x2="178.60" y2="280.92" stroke="#00ffff" stroke-width="1.60"/>
<text x="0" y="0" font-size="7.00" text-anchor="start" font-weight="bold" fill="#000" transform="translate(180.50,283.52) scale(1,1.200)" stroke="#000" stroke-width="0.25">CGO</text>
<line x1="299.36" y1="195.20" x2="299.36" y2="339.80" stroke="#e8e8e8" stroke-width="0.80"/>
<line x1="332.22" y1="195.20" x2="332.22" y2="339.80" stroke="#e8e8e8" stroke-width="0.80"/>
<line x1="365.08" y1="195.20" x2="365.08" y2="339.80" stroke="#e8e8e8" stroke-width="0.80"/>
<line x1="397.94" y1="195.20" x2="397.94" y2="339.80" stroke="#e8e8e8" stroke-width="0.80"/>
<line x1="266.50" y1="210.03" x2="430.80" y2="210.03" stroke="#e8e8e8" stroke-width="0.80"/>
<line x1="266.50" y1="224.95" x2="430.80" y2="224.95" stroke="#e8e8e8" stroke-width="0.80"/>
<line x1="266.50" y1="239.88" x2="430.80" y2="239.88" stroke="#e8e8e8" stroke-width="0.80"/>
<line x1="266.50" y1="254.80" x2="430.80" y2="254.80" stroke="#e8e8e8" stroke-width="0.80"/>
<line x1="266.50" y1="269.73" x2="430.80" y2="269.73" stroke="#e8e8e8" stroke-width="0.80"/>
<line x1="266.50" y1="284.65" x2="430.80" y2="284.65" stroke="#e8e8e8" stroke-width="0.80"/>
<line x1="266.50" y1="299.57" x2="430.80" y2="299.57" stroke="#e8e8e8" stroke-width="0.80"/>
<line x1="266.50" y1="314.50" x2="430.80" y2="314.50" stroke="#e8e8e8" stroke-width="0.80"/>
<line x1="266.50" y1="329.43" x2="430.80" y2="329.43" stroke="#e8e8e8" stroke-width="0.80"/>
<rect x="266.50" y="195.20" width="164.30" height="144.60" fill="none" stroke="#707070" stroke-width="1"/>
<line x1="299.36" y1="339.80" x2="299.36" y2="338.00" stroke="#707070" stroke-width="0.80"/>
<line x1="299.36" y1="195.20" x2="299.36" y2="197.00" stroke="#707070" stroke-width="0.80"/>
<line x1="332.22" y1="339.80" x2="332.22" y2="338.00" stroke="#707070" stroke-width="0.80"/>
<line x1="332.22" y1="195.20" x2="332.22" y2="197.00" stroke="#707070" stroke-width="0.80"/>
<line x1="365.08" y1="339.80" x2="365.08" y2="338.00" stroke="#707070" stroke-width="0.80"/>
<line x1="365.08" y1="195.20" x2="365.08" y2="197.00" stroke="#707070" stroke-width="0.80"/>
<line x1="397.94" y1="339.80" x2="397.94" y2="338.00" stroke="#707070" stroke-width="0.80"/>
<line x1="397.94" y1="195.20" x2="397.94" y2="197.00" stroke="#707070" stroke-width="0.80"/>
<line x1="430.80" y1="339.80" x2="430.80" y2="338.00" stroke="#707070" stroke-width="0.80"/>
<line x1="430.80" y1="195.20" x2="430.80" y2="197.00" stroke="#707070" stroke-width="0.80"/>
<line x1="266.50" y1="195.10" x2="268.30" y2="195.10" stroke="#707070" stroke-width="0.80"/>
<line x1="430.80" y1="195.10" x2="429.00" y2="195.10" stroke="#707070" stroke-width="0.80"/>
<line x1="266.50" y1="210.03" x2="268.30" y2="210.03" stroke="#707070" stroke-width="0.80"/>
<line x1="430.80" y1="210.03" x2="429.00" y2="210.03" stroke="#707070" stroke-width="0.80"/>
<line x1="266.50" y1="224.95" x2="268.30" y2="224.95" stroke="#707070" stroke-width="0.80"/>
<line x1="430.80" y1="224.95" x2="429.00" y2="224.95" stroke="#707070" stroke-width="0.80"/>
<line x1="266.50" y1="239.88" x2="268.30" y2="239.88" stroke="#707070" stroke-width="0.80"/>
<line x1="430.80" y1="239.88" x2="429.00" y2="239.88" stroke="#707070" stroke-width="0.80"/>
<line x1="266.50" y1="254.80" x2="268.30" y2="254.80" stroke="#707070" stroke-width="0.80"/>
<line x1="430.80" y1="254.80" x2="429.00" y2="254.80" stroke="#707070" stroke-width="0.80"/>
<line x1="266.50" y1="269.73" x2="268.30" y2="269.73" stroke="#707070" stroke-width="0.80"/>
<line x1="430.80" y1="269.73" x2="429.00" y2="269.73" stroke="#707070" stroke-width="0.80"/>
<line x1="266.50" y1="284.65" x2="268.30" y2="284.65" stroke="#707070" stroke-width="0.80"/>
<line x1="430.80" y1="284.65" x2="429.00" y2="284.65" stroke="#707070" stroke-width="0.80"/>
<line x1="266.50" y1="299.57" x2="268.30" y2="299.57" stroke="#707070" stroke-width="0.80"/>
<line x1="430.80" y1="299.57" x2="429.00" y2="299.57" stroke="#707070" stroke-width="0.80"/>
<line x1="266.50" y1="314.50" x2="268.30" y2="314.50" stroke="#707070" stroke-width="0.80"/>
<line x1="430.80" y1="314.50" x2="429.00" y2="314.50" stroke="#707070" stroke-width="0.80"/>
<line x1="266.50" y1="329.43" x2="268.30" y2="329.43" stroke="#707070" stroke-width="0.80"/>
<line x1="430.80" y1="329.43" x2="429.00" y2="329.43" stroke="#707070" stroke-width="0.80"/>
<polyline points="266.5,330.0 267.0,336.0 268.5,338.5 271.0,339.3 280.0,339.5 430.8,339.5" fill="none" stroke="#ff0000" stroke-width="1.60" stroke-linejoin="round" stroke-linecap="butt"/>
<polyline points="267.1,200.4 267.1,334.0 268.5,337.3 272.0,337.8 430.8,338.2" fill="none" stroke="#0000ff" stroke-width="1.60" stroke-linejoin="round" stroke-linecap="butt"/>
<polyline points="267.1,200.4 267.1,334.0 268.5,337.3 272.0,337.8 430.8,338.2" fill="none" stroke="#ff00ff" stroke-width="1.60" stroke-linejoin="round" stroke-linecap="butt"/>
<polyline points="368.5,195.2 370.0,267.0 372.0,290.0 374.4,310.4 376.5,325.6 379.5,333.8 383.6,337.9 390.0,338.6 430.8,338.6" fill="none" stroke="#00ff00" stroke-width="1.60" stroke-linejoin="round" stroke-linecap="butt"/>
<polyline points="266.4,195.2 266.4,200.0 268.0,210.0 269.0,250.0 270.5,300.0 271.0,330.0 273.0,337.5 280.0,338.5 430.8,338.5" fill="none" stroke="#ffff00" stroke-width="1.60" stroke-linejoin="round" stroke-linecap="butt"/>
<polyline points="267.1,200.4 267.1,334.0 268.5,337.3 272.0,337.8 430.8,338.2" fill="none" stroke="#000000" stroke-width="1.60" stroke-linejoin="round" stroke-linecap="butt"/>
<polyline points="266.5,200.4 292.6,200.4 294.0,208.7 295.5,209.6 296.0,226.0 298.0,231.0 299.0,247.2 301.0,264.7 305.0,274.6 309.0,289.6 312.0,300.0 314.3,308.1 320.0,317.1 326.0,326.2 335.0,333.0 340.0,338.0 430.8,338.3" fill="none" stroke="#eda12a" stroke-width="1.60" stroke-linejoin="round" stroke-linecap="butt"/>
<polyline points="266.5,262.3 276.3,262.3 276.3,330.3 301.9,330.3 301.9,335.2 312.0,335.2 312.0,338.2 430.8,338.2" fill="none" stroke="#7e2f8e" stroke-width="1.60" stroke-linejoin="round" stroke-linecap="butt"/>
<polyline points="270.3,200.4 270.4,320.0 271.5,333.0 273.0,338.5 276.0,339.6 430.8,339.8" fill="none" stroke="#00ffff" stroke-width="1.60" stroke-linejoin="round" stroke-linecap="butt"/>
<text x="0" y="0" font-size="7.20" text-anchor="middle" font-weight="normal" fill="#262626" transform="translate(299.36,350.60) scale(1,1.200)" stroke="#262626" stroke-width="0.22">100</text>
<text x="0" y="0" font-size="7.20" text-anchor="middle" font-weight="normal" fill="#262626" transform="translate(332.22,350.60) scale(1,1.200)" stroke="#262626" stroke-width="0.22">200</text>
<text x="0" y="0" font-size="7.20" text-anchor="middle" font-weight="normal" fill="#262626" transform="translate(365.08,350.60) scale(1,1.200)" stroke="#262626" stroke-width="0.22">300</text>
<text x="0" y="0" font-size="7.20" text-anchor="middle" font-weight="normal" fill="#262626" transform="translate(397.94,350.60) scale(1,1.200)" stroke="#262626" stroke-width="0.22">400</text>
<text x="0" y="0" font-size="7.20" text-anchor="middle" font-weight="normal" fill="#262626" transform="translate(430.80,350.60) scale(1,1.200)" stroke="#262626" stroke-width="0.22">500</text>
<text x="0" y="0" font-size="7.20" text-anchor="end" font-weight="normal" fill="#262626" transform="translate(263.30,198.10) scale(1,1.200)" stroke="#262626" stroke-width="0.22">-1.255</text>
<text x="0" y="0" font-size="7.20" text-anchor="end" font-weight="normal" fill="#262626" transform="translate(263.30,213.03) scale(1,1.200)" stroke="#262626" stroke-width="0.22">-1.2552</text>
<text x="0" y="0" font-size="7.20" text-anchor="end" font-weight="normal" fill="#262626" transform="translate(263.30,227.95) scale(1,1.200)" stroke="#262626" stroke-width="0.22">-1.2554</text>
<text x="0" y="0" font-size="7.20" text-anchor="end" font-weight="normal" fill="#262626" transform="translate(263.30,242.88) scale(1,1.200)" stroke="#262626" stroke-width="0.22">-1.2556</text>
<text x="0" y="0" font-size="7.20" text-anchor="end" font-weight="normal" fill="#262626" transform="translate(263.30,257.80) scale(1,1.200)" stroke="#262626" stroke-width="0.22">-1.2558</text>
<text x="0" y="0" font-size="7.20" text-anchor="end" font-weight="normal" fill="#262626" transform="translate(263.30,272.73) scale(1,1.200)" stroke="#262626" stroke-width="0.22">-1.256</text>
<text x="0" y="0" font-size="7.20" text-anchor="end" font-weight="normal" fill="#262626" transform="translate(263.30,287.65) scale(1,1.200)" stroke="#262626" stroke-width="0.22">-1.2562</text>
<text x="0" y="0" font-size="7.20" text-anchor="end" font-weight="normal" fill="#262626" transform="translate(263.30,302.57) scale(1,1.200)" stroke="#262626" stroke-width="0.22">-1.2564</text>
<text x="0" y="0" font-size="7.20" text-anchor="end" font-weight="normal" fill="#262626" transform="translate(263.30,317.50) scale(1,1.200)" stroke="#262626" stroke-width="0.22">-1.2566</text>
<text x="0" y="0" font-size="7.20" text-anchor="end" font-weight="normal" fill="#262626" transform="translate(263.30,332.43) scale(1,1.200)" stroke="#262626" stroke-width="0.22">-1.2568</text>
<text x="0" y="0" font-size="7.60" text-anchor="middle" font-weight="bold" fill="#000" transform="translate(348.50,191.80) scale(1,1.200)" stroke="#000" stroke-width="0.25">F8</text>
<text x="0" y="0" font-size="7.00" text-anchor="middle" font-weight="bold" fill="#000" transform="translate(348.60,361.20) scale(1,1.200)" stroke="#000" stroke-width="0.25">Iteration</text>
<text x="0" y="0" font-size="7.00" font-weight="bold" text-anchor="middle" fill="#000" stroke="#000" stroke-width="0.2" transform="translate(233.80,268.00) rotate(-90) scale(1,1.150)">Best Fitness</text>
<rect x="383.80" y="195.20" width="47.00" height="98.60" fill="#fff" stroke="#707070" stroke-width="1"/>
<line x1="386.30" y1="201.70" x2="407.60" y2="201.70" stroke="#ff0000" stroke-width="1.60"/>
<text x="0" y="0" font-size="7.00" text-anchor="start" font-weight="bold" fill="#000" transform="translate(409.70,204.30) scale(1,1.200)" stroke="#000" stroke-width="0.25">CSA</text>
<line x1="386.30" y1="212.46" x2="407.60" y2="212.46" stroke="#0000ff" stroke-width="1.60"/>
<text x="0" y="0" font-size="7.00" text-anchor="start" font-weight="bold" fill="#000" transform="translate(409.70,215.06) scale(1,1.200)" stroke="#000" stroke-width="0.25">GWO</text>
<line x1="386.30" y1="223.22" x2="407.60" y2="223.22" stroke="#ff00ff" stroke-width="1.60"/>
<text x="0" y="0" font-size="7.00" text-anchor="start" font-weight="bold" fill="#000" transform="translate(409.70,225.82) scale(1,1.200)" stroke="#000" stroke-width="0.25">SCA</text>
<line x1="386.30" y1="233.98" x2="407.60" y2="233.98" stroke="#00ff00" stroke-width="1.60"/>
<text x="0" y="0" font-size="7.00" text-anchor="start" font-weight="bold" fill="#000" transform="translate(409.70,236.58) scale(1,1.200)" stroke="#000" stroke-width="0.25">SSA</text>
<line x1="386.30" y1="244.74" x2="407.60" y2="244.74" stroke="#ffff00" stroke-width="1.60"/>
<text x="0" y="0" font-size="7.00" text-anchor="start" font-weight="bold" fill="#000" transform="translate(409.70,247.34) scale(1,1.200)" stroke="#000" stroke-width="0.25">HHO</text>
<line x1="386.30" y1="255.50" x2="407.60" y2="255.50" stroke="#000000" stroke-width="1.60"/>
<text x="0" y="0" font-size="7.00" text-anchor="start" font-weight="bold" fill="#000" transform="translate(409.70,258.10) scale(1,1.200)" stroke="#000" stroke-width="0.25">WOA</text>
<line x1="386.30" y1="266.26" x2="407.60" y2="266.26" stroke="#eda12a" stroke-width="1.60"/>
<text x="0" y="0" font-size="7.00" text-anchor="start" font-weight="bold" fill="#000" transform="translate(409.70,268.86) scale(1,1.200)" stroke="#000" stroke-width="0.25">PSO</text>
<line x1="386.30" y1="277.02" x2="407.60" y2="277.02" stroke="#7e2f8e" stroke-width="1.60"/>
<text x="0" y="0" font-size="7.00" text-anchor="start" font-weight="bold" fill="#000" transform="translate(409.70,279.62) scale(1,1.200)" stroke="#000" stroke-width="0.25">TSO</text>
<line x1="386.30" y1="287.78" x2="407.60" y2="287.78" stroke="#00ffff" stroke-width="1.60"/>
<text x="0" y="0" font-size="7.00" text-anchor="start" font-weight="bold" fill="#000" transform="translate(409.70,290.38) scale(1,1.200)" stroke="#000" stroke-width="0.25">CGO</text>
<text x="0" y="0" font-size="7.2" fill="#262626" transform="translate(266.8,193.6) scale(1,1.15)">&#215;10<tspan dy="-2.8" font-size="5.6">4</tspan></text>
<line x1="60.90" y1="382.90" x2="60.90" y2="525.40" stroke="#e8e8e8" stroke-width="0.80"/>
<line x1="93.60" y1="382.90" x2="93.60" y2="525.40" stroke="#e8e8e8" stroke-width="0.80"/>
<line x1="126.30" y1="382.90" x2="126.30" y2="525.40" stroke="#e8e8e8" stroke-width="0.80"/>
<line x1="159.00" y1="382.90" x2="159.00" y2="525.40" stroke="#e8e8e8" stroke-width="0.80"/>
<line x1="28.20" y1="401.40" x2="191.70" y2="401.40" stroke="#e8e8e8" stroke-width="0.80"/>
<line x1="28.20" y1="448.45" x2="191.70" y2="448.45" stroke="#e8e8e8" stroke-width="0.80"/>
<line x1="28.20" y1="495.50" x2="191.70" y2="495.50" stroke="#e8e8e8" stroke-width="0.80"/>
<line x1="28.20" y1="391.99" x2="191.70" y2="391.99" stroke="#f3f3f3" stroke-width="0.60"/>
<line x1="28.20" y1="410.81" x2="191.70" y2="410.81" stroke="#f3f3f3" stroke-width="0.60"/>
<line x1="28.20" y1="420.22" x2="191.70" y2="420.22" stroke="#f3f3f3" stroke-width="0.60"/>
<line x1="28.20" y1="429.63" x2="191.70" y2="429.63" stroke="#f3f3f3" stroke-width="0.60"/>
<line x1="28.20" y1="439.04" x2="191.70" y2="439.04" stroke="#f3f3f3" stroke-width="0.60"/>
<line x1="28.20" y1="457.86" x2="191.70" y2="457.86" stroke="#f3f3f3" stroke-width="0.60"/>
<line x1="28.20" y1="467.27" x2="191.70" y2="467.27" stroke="#f3f3f3" stroke-width="0.60"/>
<line x1="28.20" y1="476.68" x2="191.70" y2="476.68" stroke="#f3f3f3" stroke-width="0.60"/>
<line x1="28.20" y1="486.09" x2="191.70" y2="486.09" stroke="#f3f3f3" stroke-width="0.60"/>
<line x1="28.20" y1="504.91" x2="191.70" y2="504.91" stroke="#f3f3f3" stroke-width="0.60"/>
<line x1="28.20" y1="514.32" x2="191.70" y2="514.32" stroke="#f3f3f3" stroke-width="0.60"/>
<rect x="28.20" y="382.90" width="163.50" height="142.50" fill="none" stroke="#707070" stroke-width="1"/>
<line x1="60.90" y1="525.40" x2="60.90" y2="523.60" stroke="#707070" stroke-width="0.80"/>
<line x1="60.90" y1="382.90" x2="60.90" y2="384.70" stroke="#707070" stroke-width="0.80"/>
<line x1="93.60" y1="525.40" x2="93.60" y2="523.60" stroke="#707070" stroke-width="0.80"/>
<line x1="93.60" y1="382.90" x2="93.60" y2="384.70" stroke="#707070" stroke-width="0.80"/>
<line x1="126.30" y1="525.40" x2="126.30" y2="523.60" stroke="#707070" stroke-width="0.80"/>
<line x1="126.30" y1="382.90" x2="126.30" y2="384.70" stroke="#707070" stroke-width="0.80"/>
<line x1="159.00" y1="525.40" x2="159.00" y2="523.60" stroke="#707070" stroke-width="0.80"/>
<line x1="159.00" y1="382.90" x2="159.00" y2="384.70" stroke="#707070" stroke-width="0.80"/>
<line x1="191.70" y1="525.40" x2="191.70" y2="523.60" stroke="#707070" stroke-width="0.80"/>
<line x1="191.70" y1="382.90" x2="191.70" y2="384.70" stroke="#707070" stroke-width="0.80"/>
<line x1="28.20" y1="401.40" x2="30.00" y2="401.40" stroke="#707070" stroke-width="0.80"/>
<line x1="191.70" y1="401.40" x2="189.90" y2="401.40" stroke="#707070" stroke-width="0.80"/>
<line x1="28.20" y1="448.45" x2="30.00" y2="448.45" stroke="#707070" stroke-width="0.80"/>
<line x1="191.70" y1="448.45" x2="189.90" y2="448.45" stroke="#707070" stroke-width="0.80"/>
<line x1="28.20" y1="495.50" x2="30.00" y2="495.50" stroke="#707070" stroke-width="0.80"/>
<line x1="191.70" y1="495.50" x2="189.90" y2="495.50" stroke="#707070" stroke-width="0.80"/>
<polyline points="29.0,383.0 29.6,440.0 30.1,462.1 36.0,462.1 36.0,469.5 65.7,469.5 65.7,488.4 72.5,488.4 72.5,494.3 74.6,496.0 75.4,510.0 76.0,525.0 80.7,525.0" fill="none" stroke="#ff0000" stroke-width="1.60" stroke-linejoin="round" stroke-linecap="butt"/>
<polyline points="150.0,383.2 160.9,383.2 170.0,385.0 180.0,386.8 191.7,387.7" fill="none" stroke="#0000ff" stroke-width="1.60" stroke-linejoin="round" stroke-linecap="butt"/>
<polyline points="28.2,383.2 191.7,383.2" fill="none" stroke="#ff00ff" stroke-width="1.60" stroke-linejoin="round" stroke-linecap="butt"/>
<polyline points="29.5,393.8 122.2,393.8 125.0,396.8 130.0,401.3 135.0,404.9 140.0,409.4 145.0,415.8 150.0,420.3 155.0,423.9 160.0,428.4 172.0,450.0 181.0,456.5 188.0,464.6 191.7,470.0" fill="none" stroke="#00ff00" stroke-width="1.60" stroke-linejoin="round" stroke-linecap="butt"/>
<polyline points="29.2,383.0 31.0,400.0 35.2,440.0 37.7,458.7 44.5,458.7 44.5,462.9 57.2,462.9 57.2,475.6 65.7,475.6 66.5,490.0 67.9,498.0 68.5,520.5 71.9,520.5 72.5,525.4" fill="none" stroke="#ffff00" stroke-width="1.60" stroke-linejoin="round" stroke-linecap="butt"/>
<polyline points="29.0,405.0 29.5,410.0 33.0,421.8 40.0,424.0 50.0,425.9 52.0,430.0 52.5,441.7 55.0,444.0 59.8,446.0 63.2,457.0 69.1,460.4 71.7,474.0 74.2,484.1 75.9,491.0 82.1,500.2 85.2,512.4 85.8,525.0 91.3,525.0" fill="none" stroke="#000000" stroke-width="1.60" stroke-linejoin="round" stroke-linecap="butt"/>
<polyline points="28.5,401.5 45.0,402.5 55.0,404.5 60.0,406.5 80.0,413.3 90.0,416.2 100.0,421.9 110.0,425.8 120.0,431.5 125.0,439.3 132.0,443.8 139.6,446.5 181.0,468.3 191.7,472.8" fill="none" stroke="#eda12a" stroke-width="1.60" stroke-linejoin="round" stroke-linecap="butt"/>
<polyline points="28.9,401.5 29.3,415.3 32.0,415.3 51.5,415.3 55.0,417.8 90.0,418.7 142.1,419.8 143.0,421.0 156.0,421.5 159.0,423.9 160.0,428.4 181.0,452.9 186.0,461.0 190.0,469.2 191.7,470.0" fill="none" stroke="#7e2f8e" stroke-width="1.60" stroke-linejoin="round" stroke-linecap="butt"/>
<polyline points="29.0,410.0 34.3,440.0 41.6,500.0 44.8,525.4" fill="none" stroke="#00ffff" stroke-width="1.60" stroke-linejoin="round" stroke-linecap="butt"/>
<text x="0" y="0" font-size="7.20" text-anchor="middle" font-weight="normal" fill="#262626" transform="translate(60.90,536.00) scale(1,1.200)" stroke="#262626" stroke-width="0.22">100</text>
<text x="0" y="0" font-size="7.20" text-anchor="middle" font-weight="normal" fill="#262626" transform="translate(93.60,536.00) scale(1,1.200)" stroke="#262626" stroke-width="0.22">200</text>
<text x="0" y="0" font-size="7.20" text-anchor="middle" font-weight="normal" fill="#262626" transform="translate(126.30,536.00) scale(1,1.200)" stroke="#262626" stroke-width="0.22">300</text>
<text x="0" y="0" font-size="7.20" text-anchor="middle" font-weight="normal" fill="#262626" transform="translate(159.00,536.00) scale(1,1.200)" stroke="#262626" stroke-width="0.22">400</text>
<text x="0" y="0" font-size="7.20" text-anchor="middle" font-weight="normal" fill="#262626" transform="translate(191.70,536.00) scale(1,1.200)" stroke="#262626" stroke-width="0.22">500</text>
<text x="0" y="0" font-size="7.20" text-anchor="end" fill="#262626" stroke="#262626" stroke-width="0.22" transform="translate(26.20,405.50) scale(1,1.200)">10<tspan dy="-3.30" font-size="5.80">0</tspan></text>
<text x="0" y="0" font-size="7.20" text-anchor="end" fill="#262626" stroke="#262626" stroke-width="0.22" transform="translate(26.20,452.55) scale(1,1.200)">10<tspan dy="-3.30" font-size="5.80">-5</tspan></text>
<text x="0" y="0" font-size="7.20" text-anchor="end" fill="#262626" stroke="#262626" stroke-width="0.22" transform="translate(26.20,499.60) scale(1,1.200)">10<tspan dy="-3.30" font-size="5.80">-10</tspan></text>
<text x="0" y="0" font-size="7.60" text-anchor="middle" font-weight="bold" fill="#000" transform="translate(110.20,379.80) scale(1,1.200)" stroke="#000" stroke-width="0.25">F9</text>
<text x="0" y="0" font-size="7.00" text-anchor="middle" font-weight="bold" fill="#000" transform="translate(110.00,546.80) scale(1,1.200)" stroke="#000" stroke-width="0.25">Iteration</text>
<text x="0" y="0" font-size="7.00" font-weight="bold" text-anchor="middle" fill="#000" stroke="#000" stroke-width="0.2" transform="translate(6.80,454.40) rotate(-90) scale(1,1.150)">Best Fitness</text>
<rect x="139.60" y="429.00" width="40.80" height="96.40" fill="#fff" stroke="#707070" stroke-width="1"/>
<line x1="141.60" y1="435.10" x2="159.90" y2="435.10" stroke="#ff0000" stroke-width="1.60"/>
<text x="0" y="0" font-size="7.00" text-anchor="start" font-weight="bold" fill="#000" transform="translate(161.90,437.70) scale(1,1.200)" stroke="#000" stroke-width="0.25">CSA</text>
<line x1="141.60" y1="445.66" x2="159.90" y2="445.66" stroke="#0000ff" stroke-width="1.60"/>
<text x="0" y="0" font-size="7.00" text-anchor="start" font-weight="bold" fill="#000" transform="translate(161.90,448.26) scale(1,1.200)" stroke="#000" stroke-width="0.25">GWO</text>
<line x1="141.60" y1="456.22" x2="159.90" y2="456.22" stroke="#ff00ff" stroke-width="1.60"/>
<text x="0" y="0" font-size="7.00" text-anchor="start" font-weight="bold" fill="#000" transform="translate(161.90,458.82) scale(1,1.200)" stroke="#000" stroke-width="0.25">SCA</text>
<line x1="141.60" y1="466.78" x2="159.90" y2="466.78" stroke="#00ff00" stroke-width="1.60"/>
<text x="0" y="0" font-size="7.00" text-anchor="start" font-weight="bold" fill="#000" transform="translate(161.90,469.38) scale(1,1.200)" stroke="#000" stroke-width="0.25">SSA</text>
<line x1="141.60" y1="477.34" x2="159.90" y2="477.34" stroke="#ffff00" stroke-width="1.60"/>
<text x="0" y="0" font-size="7.00" text-anchor="start" font-weight="bold" fill="#000" transform="translate(161.90,479.94) scale(1,1.200)" stroke="#000" stroke-width="0.25">HHO</text>
<line x1="141.60" y1="487.90" x2="159.90" y2="487.90" stroke="#000000" stroke-width="1.60"/>
<text x="0" y="0" font-size="7.00" text-anchor="start" font-weight="bold" fill="#000" transform="translate(161.90,490.50) scale(1,1.200)" stroke="#000" stroke-width="0.25">WOA</text>
<line x1="141.60" y1="498.46" x2="159.90" y2="498.46" stroke="#eda12a" stroke-width="1.60"/>
<text x="0" y="0" font-size="7.00" text-anchor="start" font-weight="bold" fill="#000" transform="translate(161.90,501.06) scale(1,1.200)" stroke="#000" stroke-width="0.25">PSO</text>
<line x1="141.60" y1="509.02" x2="159.90" y2="509.02" stroke="#7e2f8e" stroke-width="1.60"/>
<text x="0" y="0" font-size="7.00" text-anchor="start" font-weight="bold" fill="#000" transform="translate(161.90,511.62) scale(1,1.200)" stroke="#000" stroke-width="0.25">TSO</text>
<line x1="141.60" y1="519.58" x2="159.90" y2="519.58" stroke="#00ffff" stroke-width="1.60"/>
<text x="0" y="0" font-size="7.00" text-anchor="start" font-weight="bold" fill="#000" transform="translate(161.90,522.18) scale(1,1.200)" stroke="#000" stroke-width="0.25">CGO</text>
<line x1="289.10" y1="382.60" x2="289.10" y2="526.60" stroke="#e8e8e8" stroke-width="0.80"/>
<line x1="321.50" y1="382.60" x2="321.50" y2="526.60" stroke="#e8e8e8" stroke-width="0.80"/>
<line x1="353.90" y1="382.60" x2="353.90" y2="526.60" stroke="#e8e8e8" stroke-width="0.80"/>
<line x1="386.30" y1="382.60" x2="386.30" y2="526.60" stroke="#e8e8e8" stroke-width="0.80"/>
<line x1="256.70" y1="431.60" x2="418.70" y2="431.60" stroke="#e8e8e8" stroke-width="0.80"/>
<line x1="256.70" y1="478.90" x2="418.70" y2="478.90" stroke="#e8e8e8" stroke-width="0.80"/>
<line x1="256.70" y1="393.76" x2="418.70" y2="393.76" stroke="#f3f3f3" stroke-width="0.60"/>
<line x1="256.70" y1="403.22" x2="418.70" y2="403.22" stroke="#f3f3f3" stroke-width="0.60"/>
<line x1="256.70" y1="412.68" x2="418.70" y2="412.68" stroke="#f3f3f3" stroke-width="0.60"/>
<line x1="256.70" y1="422.14" x2="418.70" y2="422.14" stroke="#f3f3f3" stroke-width="0.60"/>
<line x1="256.70" y1="441.06" x2="418.70" y2="441.06" stroke="#f3f3f3" stroke-width="0.60"/>
<line x1="256.70" y1="450.52" x2="418.70" y2="450.52" stroke="#f3f3f3" stroke-width="0.60"/>
<line x1="256.70" y1="459.98" x2="418.70" y2="459.98" stroke="#f3f3f3" stroke-width="0.60"/>
<line x1="256.70" y1="469.44" x2="418.70" y2="469.44" stroke="#f3f3f3" stroke-width="0.60"/>
<line x1="256.70" y1="488.36" x2="418.70" y2="488.36" stroke="#f3f3f3" stroke-width="0.60"/>
<line x1="256.70" y1="497.82" x2="418.70" y2="497.82" stroke="#f3f3f3" stroke-width="0.60"/>
<line x1="256.70" y1="507.28" x2="418.70" y2="507.28" stroke="#f3f3f3" stroke-width="0.60"/>
<line x1="256.70" y1="516.74" x2="418.70" y2="516.74" stroke="#f3f3f3" stroke-width="0.60"/>
<rect x="256.70" y="382.60" width="162.00" height="144.00" fill="none" stroke="#707070" stroke-width="1"/>
<line x1="289.10" y1="526.60" x2="289.10" y2="524.80" stroke="#707070" stroke-width="0.80"/>
<line x1="289.10" y1="382.60" x2="289.10" y2="384.40" stroke="#707070" stroke-width="0.80"/>
<line x1="321.50" y1="526.60" x2="321.50" y2="524.80" stroke="#707070" stroke-width="0.80"/>
<line x1="321.50" y1="382.60" x2="321.50" y2="384.40" stroke="#707070" stroke-width="0.80"/>
<line x1="353.90" y1="526.60" x2="353.90" y2="524.80" stroke="#707070" stroke-width="0.80"/>
<line x1="353.90" y1="382.60" x2="353.90" y2="384.40" stroke="#707070" stroke-width="0.80"/>
<line x1="386.30" y1="526.60" x2="386.30" y2="524.80" stroke="#707070" stroke-width="0.80"/>
<line x1="386.30" y1="382.60" x2="386.30" y2="384.40" stroke="#707070" stroke-width="0.80"/>
<line x1="418.70" y1="526.60" x2="418.70" y2="524.80" stroke="#707070" stroke-width="0.80"/>
<line x1="418.70" y1="382.60" x2="418.70" y2="384.40" stroke="#707070" stroke-width="0.80"/>
<line x1="256.70" y1="384.30" x2="258.50" y2="384.30" stroke="#707070" stroke-width="0.80"/>
<line x1="418.70" y1="384.30" x2="416.90" y2="384.30" stroke="#707070" stroke-width="0.80"/>
<line x1="256.70" y1="431.60" x2="258.50" y2="431.60" stroke="#707070" stroke-width="0.80"/>
<line x1="418.70" y1="431.60" x2="416.90" y2="431.60" stroke="#707070" stroke-width="0.80"/>
<line x1="256.70" y1="478.90" x2="258.50" y2="478.90" stroke="#707070" stroke-width="0.80"/>
<line x1="418.70" y1="478.90" x2="416.90" y2="478.90" stroke="#707070" stroke-width="0.80"/>
<line x1="256.70" y1="526.20" x2="258.50" y2="526.20" stroke="#707070" stroke-width="0.80"/>
<line x1="418.70" y1="526.20" x2="416.90" y2="526.20" stroke="#707070" stroke-width="0.80"/>
<polyline points="256.8,383.0 257.0,397.0 258.5,398.7 260.0,410.5 265.0,410.5 267.5,413.4 281.5,413.4 282.0,416.2 285.5,425.2 287.0,432.0 290.0,441.6 295.4,454.3 297.2,472.9 309.2,472.9 310.0,480.0 310.5,495.3 313.0,506.2 314.7,511.6 315.4,519.7 321.0,520.0 321.0,526.3 342.1,526.3" fill="none" stroke="#ff0000" stroke-width="1.60" stroke-linejoin="round" stroke-linecap="butt"/>
<polyline points="261.9,383.0 296.0,433.2 309.5,460.0 324.4,487.1 332.6,504.8 339.4,512.9 346.8,513.0 346.8,515.0 418.7,515.0" fill="none" stroke="#0000ff" stroke-width="1.60" stroke-linejoin="round" stroke-linecap="butt"/>
<polyline points="256.7,383.0 302.9,383.0 310.0,393.3 317.1,400.0 321.7,405.4 326.2,416.3 332.5,425.3 339.8,434.4 343.4,440.7 351.5,447.1 365.1,454.3 365.7,455.0 413.7,461.5 418.7,461.5" fill="none" stroke="#ff00ff" stroke-width="1.60" stroke-linejoin="round" stroke-linecap="butt"/>
<polyline points="257.0,383.1 355.4,383.1 365.7,390.0 400.0,410.0 413.3,421.4 418.7,424.8" fill="none" stroke="#00ff00" stroke-width="1.60" stroke-linejoin="round" stroke-linecap="butt"/>
<polyline points="256.8,383.0 258.0,407.0 260.0,411.7 262.0,414.0 264.0,421.0 281.7,421.0 281.7,427.0 291.3,427.0 294.5,429.9 296.5,438.0 296.5,448.0 317.1,448.0 317.1,464.8 333.9,464.8 334.6,473.6 337.3,480.4 340.0,494.0 341.4,514.3 342.4,526.3 418.7,526.3" fill="none" stroke="#ffff00" stroke-width="1.60" stroke-linejoin="round" stroke-linecap="butt"/>
<polyline points="256.8,383.0 256.8,395.8 257.5,408.3 259.0,420.2 265.3,420.2 268.0,421.9 276.0,422.8 287.0,423.6 295.0,425.0 298.0,426.4 303.0,428.6 308.1,444.3 315.3,457.0 323.8,473.6 327.1,489.9 331.2,503.4 337.3,517.7 418.7,517.7" fill="none" stroke="#000000" stroke-width="1.60" stroke-linejoin="round" stroke-linecap="butt"/>
<polyline points="256.8,384.5 262.0,385.7 270.0,386.2 276.0,387.4 285.0,390.2 290.0,391.3 296.0,393.6 306.3,399.5 325.0,404.0 340.0,408.6 350.0,410.3 365.1,415.4 413.7,431.0 418.7,433.0" fill="none" stroke="#eda12a" stroke-width="1.60" stroke-linejoin="round" stroke-linecap="butt"/>
<polyline points="256.8,383.0 256.8,395.5 365.7,395.5 390.0,400.0 410.0,414.0 413.3,416.9 415.0,419.1 418.7,420.0" fill="none" stroke="#7e2f8e" stroke-width="1.60" stroke-linejoin="round" stroke-linecap="butt"/>
<polyline points="257.3,383.2 287.0,520.1 418.7,520.1" fill="none" stroke="#00ffff" stroke-width="1.60" stroke-linejoin="round" stroke-linecap="butt"/>
<text x="0" y="0" font-size="7.20" text-anchor="middle" font-weight="normal" fill="#262626" transform="translate(289.10,536.60) scale(1,1.200)" stroke="#262626" stroke-width="0.22">100</text>
<text x="0" y="0" font-size="7.20" text-anchor="middle" font-weight="normal" fill="#262626" transform="translate(321.50,536.60) scale(1,1.200)" stroke="#262626" stroke-width="0.22">200</text>
<text x="0" y="0" font-size="7.20" text-anchor="middle" font-weight="normal" fill="#262626" transform="translate(353.90,536.60) scale(1,1.200)" stroke="#262626" stroke-width="0.22">300</text>
<text x="0" y="0" font-size="7.20" text-anchor="middle" font-weight="normal" fill="#262626" transform="translate(386.30,536.60) scale(1,1.200)" stroke="#262626" stroke-width="0.22">400</text>
<text x="0" y="0" font-size="7.20" text-anchor="middle" font-weight="normal" fill="#262626" transform="translate(418.70,536.60) scale(1,1.200)" stroke="#262626" stroke-width="0.22">500</text>
<text x="0" y="0" font-size="7.20" text-anchor="end" fill="#262626" stroke="#262626" stroke-width="0.22" transform="translate(254.70,388.40) scale(1,1.200)">10<tspan dy="-3.30" font-size="5.80">0</tspan></text>
<text x="0" y="0" font-size="7.20" text-anchor="end" fill="#262626" stroke="#262626" stroke-width="0.22" transform="translate(254.70,435.70) scale(1,1.200)">10<tspan dy="-3.30" font-size="5.80">-5</tspan></text>
<text x="0" y="0" font-size="7.20" text-anchor="end" fill="#262626" stroke="#262626" stroke-width="0.22" transform="translate(254.70,483.00) scale(1,1.200)">10<tspan dy="-3.30" font-size="5.80">-10</tspan></text>
<text x="0" y="0" font-size="7.20" text-anchor="end" fill="#262626" stroke="#262626" stroke-width="0.22" transform="translate(254.70,530.30) scale(1,1.200)">10<tspan dy="-3.30" font-size="5.80">-15</tspan></text>
<text x="0" y="0" font-size="7.60" text-anchor="middle" font-weight="bold" fill="#000" transform="translate(337.60,379.60) scale(1,1.200)" stroke="#000" stroke-width="0.25">F10</text>
<text x="0" y="0" font-size="7.00" text-anchor="middle" font-weight="bold" fill="#000" transform="translate(337.70,547.20) scale(1,1.200)" stroke="#000" stroke-width="0.25">Iteration</text>
<text x="0" y="0" font-size="7.00" font-weight="bold" text-anchor="middle" fill="#000" stroke="#000" stroke-width="0.2" transform="translate(231.50,455.00) rotate(-90) scale(1,1.150)">Best Fitness</text>
<rect x="365.70" y="383.40" width="48.00" height="96.70" fill="#fff" stroke="#707070" stroke-width="1"/>
<line x1="368.50" y1="390.70" x2="390.30" y2="390.70" stroke="#ff0000" stroke-width="1.60"/>
<text x="0" y="0" font-size="7.00" text-anchor="start" font-weight="bold" fill="#000" transform="translate(392.50,393.30) scale(1,1.200)" stroke="#000" stroke-width="0.25">CSA</text>
<line x1="368.50" y1="401.13" x2="390.30" y2="401.13" stroke="#0000ff" stroke-width="1.60"/>
<text x="0" y="0" font-size="7.00" text-anchor="start" font-weight="bold" fill="#000" transform="translate(392.50,403.73) scale(1,1.200)" stroke="#000" stroke-width="0.25">GWO</text>
<line x1="368.50" y1="411.56" x2="390.30" y2="411.56" stroke="#ff00ff" stroke-width="1.60"/>
<text x="0" y="0" font-size="7.00" text-anchor="start" font-weight="bold" fill="#000" transform="translate(392.50,414.16) scale(1,1.200)" stroke="#000" stroke-width="0.25">SCA</text>
<line x1="368.50" y1="421.99" x2="390.30" y2="421.99" stroke="#00ff00" stroke-width="1.60"/>
<text x="0" y="0" font-size="7.00" text-anchor="start" font-weight="bold" fill="#000" transform="translate(392.50,424.59) scale(1,1.200)" stroke="#000" stroke-width="0.25">SSA</text>
<line x1="368.50" y1="432.42" x2="390.30" y2="432.42" stroke="#ffff00" stroke-width="1.60"/>
<text x="0" y="0" font-size="7.00" text-anchor="start" font-weight="bold" fill="#000" transform="translate(392.50,435.02) scale(1,1.200)" stroke="#000" stroke-width="0.25">HHO</text>
<line x1="368.50" y1="442.85" x2="390.30" y2="442.85" stroke="#000000" stroke-width="1.60"/>
<text x="0" y="0" font-size="7.00" text-anchor="start" font-weight="bold" fill="#000" transform="translate(392.50,445.45) scale(1,1.200)" stroke="#000" stroke-width="0.25">WOA</text>
<line x1="368.50" y1="453.28" x2="390.30" y2="453.28" stroke="#eda12a" stroke-width="1.60"/>
<text x="0" y="0" font-size="7.00" text-anchor="start" font-weight="bold" fill="#000" transform="translate(392.50,455.88) scale(1,1.200)" stroke="#000" stroke-width="0.25">PSO</text>
<line x1="368.50" y1="463.71" x2="390.30" y2="463.71" stroke="#7e2f8e" stroke-width="1.60"/>
<text x="0" y="0" font-size="7.00" text-anchor="start" font-weight="bold" fill="#000" transform="translate(392.50,466.31) scale(1,1.200)" stroke="#000" stroke-width="0.25">TSO</text>
<line x1="368.50" y1="474.14" x2="390.30" y2="474.14" stroke="#00ffff" stroke-width="1.60"/>
<text x="0" y="0" font-size="7.00" text-anchor="start" font-weight="bold" fill="#000" transform="translate(392.50,476.74) scale(1,1.200)" stroke="#000" stroke-width="0.25">CGO</text>
</svg></body></html>
